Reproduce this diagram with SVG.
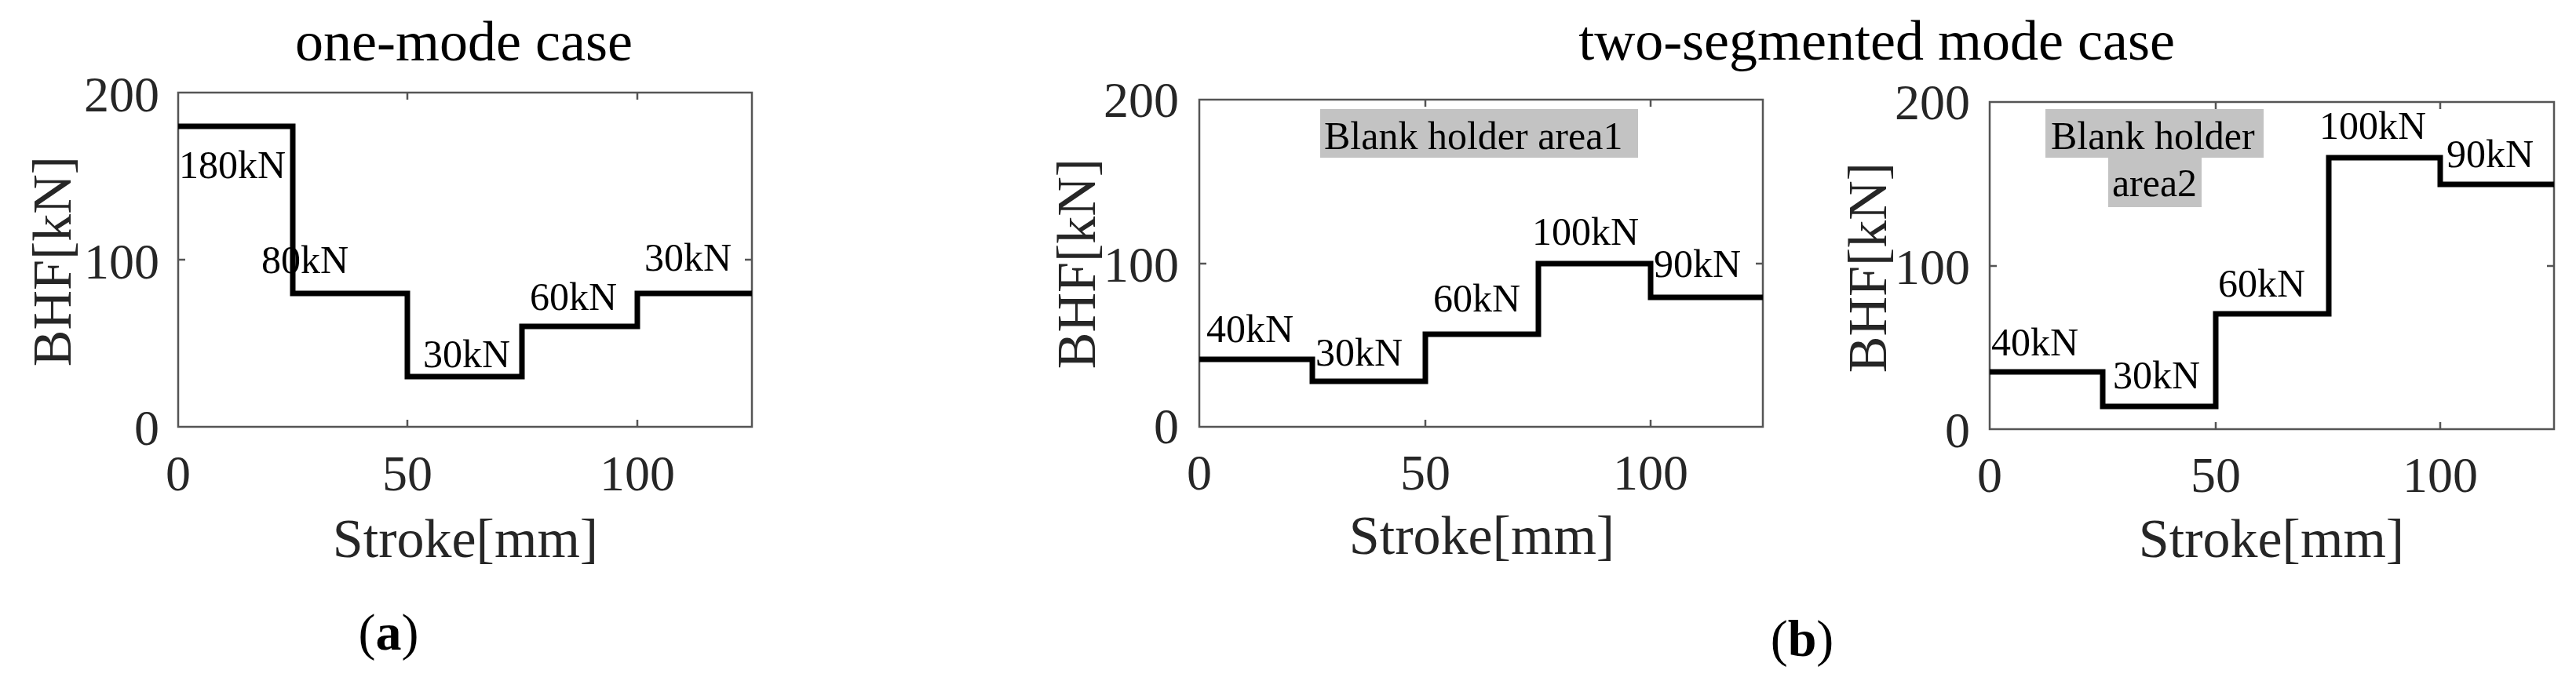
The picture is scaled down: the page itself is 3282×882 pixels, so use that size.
<svg xmlns="http://www.w3.org/2000/svg" width="3282" height="882" viewBox="0 0 3282 882">
<style>
text{font-family:"Liberation Serif","Times New Roman",serif;fill:#000}
.tk{font-size:64px;fill:#262626}
.tkx{font-size:64px;fill:#262626;text-anchor:middle}
.ax{font-size:70px;fill:#262626}
.lb{font-size:50px}
.tt{font-size:72px;text-anchor:middle}
.frame{fill:#fff;stroke:#555;stroke-width:2.5}
.tick{stroke:#555;stroke-width:2.5}
.step{fill:none;stroke:#000;stroke-width:7;stroke-linejoin:miter}
.gb{fill:#c3c3c3}
</style>
<text class="tt" x="591" y="77">one-mode case</text>
<text class="tt" x="2391" y="76">two-segmented mode case</text>

<g id="plot-a">
<rect class="frame" x="227" y="118" width="731" height="426"/>
<path class="tick" d="M519 544v-9M812 544v-9M519 118v9M812 118v9M227 331h9M958 331h-9"/>
<polyline class="step" points="227,161 373,161 373,374 519,374 519,480 665,480 665,416 812,416 812,374 958,374"/>
<text class="tk" x="203" y="142" text-anchor="end">200</text>
<text class="tk" x="203" y="355" text-anchor="end">100</text>
<text class="tk" x="203" y="567" text-anchor="end">0</text>
<text class="tkx" x="227" y="625">0</text>
<text class="tkx" x="519" y="625">50</text>
<text class="tkx" x="812" y="625">100</text>
<text class="ax" x="593" y="710" text-anchor="middle">Stroke[mm]</text>
<text class="ax" transform="translate(90,333) rotate(-90)" text-anchor="middle">BHF[kN]</text>
<text class="lb" x="228" y="227">180kN</text>
<text class="lb" x="333" y="348">80kN</text>
<text class="lb" x="539" y="468">30kN</text>
<text class="lb" x="675" y="395">60kN</text>
<text class="lb" x="821" y="345">30kN</text>
<text x="495" y="828" font-size="66" text-anchor="middle">(<tspan font-weight="bold">a</tspan>)</text>
</g>

<g id="plot-b1">
<rect class="frame" x="1528" y="127" width="718" height="417"/>
<path class="tick" d="M1816 544v-9M2103 544v-9M1816 127v9M2103 127v9M1528 336h9M2246 336h-9"/>
<polyline class="step" points="1528,458 1672,458 1672,486 1816,486 1816,426 1960,426 1960,336 2103,336 2103,379 2246,379"/>
<rect class="gb" x="1682" y="139" width="405" height="62"/>
<text class="lb" x="1687" y="190">Blank holder area1</text>
<text class="tk" x="1502" y="149" text-anchor="end">200</text>
<text class="tk" x="1502" y="359" text-anchor="end">100</text>
<text class="tk" x="1502" y="565" text-anchor="end">0</text>
<text class="tkx" x="1528" y="624">0</text>
<text class="tkx" x="1816" y="624">50</text>
<text class="tkx" x="2103" y="624">100</text>
<text class="ax" x="1888" y="706" text-anchor="middle">Stroke[mm]</text>
<text class="ax" transform="translate(1395,336) rotate(-90)" text-anchor="middle">BHF[kN]</text>
<text class="lb" x="1537" y="436">40kN</text>
<text class="lb" x="1676" y="466">30kN</text>
<text class="lb" x="1826" y="397">60kN</text>
<text class="lb" x="1952" y="312">100kN</text>
<text class="lb" x="2107" y="353">90kN</text>
<text x="2296" y="836" font-size="66" text-anchor="middle">(<tspan font-weight="bold">b</tspan>)</text>
</g>

<g id="plot-b2">
<rect class="frame" x="2535" y="130" width="719" height="417"/>
<path class="tick" d="M2823 547v-9M3109 547v-9M2823 130v9M3109 130v9M2535 339h9M3254 339h-9"/>
<polyline class="step" points="2535,474 2679,474 2679,518 2823,518 2823,400 2967,400 2967,201 3109,201 3109,235 3254,235"/>
<rect class="gb" x="2606" y="139" width="278" height="62"/>
<rect class="gb" x="2686" y="201" width="119" height="63"/>
<text class="lb" x="2613" y="190">Blank holder</text>
<text class="lb" x="2745" y="250" text-anchor="middle">area2</text>
<text class="tk" x="2510" y="152" text-anchor="end">200</text>
<text class="tk" x="2510" y="362" text-anchor="end">100</text>
<text class="tk" x="2510" y="570" text-anchor="end">0</text>
<text class="tkx" x="2535" y="627">0</text>
<text class="tkx" x="2823" y="627">50</text>
<text class="tkx" x="3109" y="627">100</text>
<text class="ax" x="2894" y="710" text-anchor="middle">Stroke[mm]</text>
<text class="ax" transform="translate(2403,341) rotate(-90)" text-anchor="middle">BHF[kN]</text>
<text class="lb" x="2537" y="453">40kN</text>
<text class="lb" x="2692" y="495">30kN</text>
<text class="lb" x="2826" y="378">60kN</text>
<text class="lb" x="2955" y="177">100kN</text>
<text class="lb" x="3117" y="213">90kN</text>
</g>
</svg>
